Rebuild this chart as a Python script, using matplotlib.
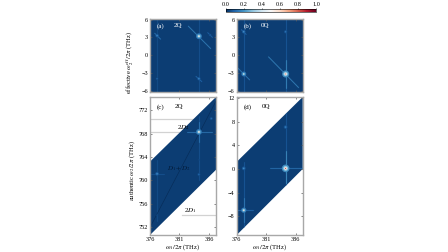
import numpy as np
import matplotlib
matplotlib.use("Agg")
import matplotlib.pyplot as plt

plt.rcParams["font.family"] = ["Liberation Serif", "DejaVu Serif"]
plt.rcParams["mathtext.fontset"] = "stix"
plt.rcParams["font.size"] = 4.5

cmap = plt.get_cmap("RdBu_r")
background = 0.025
gray = "#a8a8a8"

# spots: x, y, peak value, glow radius (THz)
spots_a = [(377.2, 3.3, 0.2, 0.3), (377.2, -4.0, 0.12, 0.22), (384.3, 3.2, 0.48, 0.5),
           (384.3, -4.0, 0.2, 0.28), (386.2, 3.4, 0.12, 0.22)]
spots_b = [(377.2, 3.95, 0.22, 0.3), (377.2, -3.2, 0.42, 0.42), (384.3, 3.95, 0.15, 0.28),
           (384.3, -3.2, 0.62, 0.6)]
spots_c = [(377.2, 761.1, 0.2, 0.32), (384.3, 768.3, 0.48, 0.5), (384.3, 761.0, 0.13, 0.25),
           (386.4, 770.6, 0.13, 0.25), (377.2, 754.0, 0.07, 0.15), (384.3, 763.5, 0.07, 0.12)]
spots_d = [(377.2, 0.1, 0.2, 0.32), (377.2, -7.0, 0.48, 0.45), (384.3, 7.1, 0.17, 0.32),
           (384.3, 0.1, 0.66, 0.65)]

# streaks: x0, y0, x1, y1, value
streaks_a = [(377.2, -6.2, 377.2, 6.2, 0.06), (384.3, -6.2, 384.3, 6.2, 0.07),
             (382.5, 4.9, 386.3, 1.1, 0.15), (376.8, 3.7, 377.8, 2.7, 0.13),
             (385.8, 3.8, 386.6, 3.0, 0.09), (383.8, -3.6, 384.8, -4.5, 0.1)]
streaks_b = [(377.2, -6.2, 377.2, 6.2, 0.08), (384.3, -6.2, 384.3, 6.2, 0.08),
             (381.4, -0.3, 386.5, -5.5, 0.16), (376.2, -2.2, 378.2, -4.2, 0.14),
             (376.8, 4.3, 377.6, 3.5, 0.11), (384.3, -0.8, 384.3, -5.6, 0.18)]
streaks_c = [(377.2, 753.0, 377.2, 763.5, 0.06), (384.3, 760.0, 384.3, 771.0, 0.07),
             (382.3, 768.3, 386.6, 768.3, 0.14), (384.3, 766.5, 384.3, 770.0, 0.14),
             (376.2, 761.1, 378.4, 761.1, 0.07)]
streaks_d = [(377.2, -11.0, 377.2, 1.1, 0.08), (384.3, -2.8, 384.3, 9.5, 0.08),
             (376.0, -7.0, 378.8, -7.0, 0.11), (377.2, -9.0, 377.2, -5.0, 0.15),
             (381.6, 0.1, 387.0, 0.1, 0.13), (384.3, -2.4, 384.3, 3.0, 0.2)]

# parallelogram corners of the measured region
region_c = [(376.0, 750.6), (376.0, 763.2), (387.2, 774.3), (387.2, 761.8)]
region_d = [(376.0, -11.2), (376.0, 1.2), (387.2, 12.2), (387.2, 0.0)]

# gray guide lines in panel c: x0, x1, y
guides_c = [(376.1, 387.2, 770.5), (376.0, 387.2, 768.3), (381.5, 387.2, 754.0)]

fig = plt.figure(figsize=(4.48, 2.52), dpi=100)


def make_axes(left, top, right, bottom):
    ax = fig.add_axes([left / 448, 1 - bottom / 252, (right - left) / 448, (bottom - top) / 252])
    ax.set_xlim(376, 387.2)
    ax.set_xticks([376, 381, 386])
    ax.tick_params(direction="in", length=1.5, width=0.5, pad=1.5, labelsize=4.5,
                   top=True, right=True, color="#555555")
    for s in ax.spines.values():
        s.set_color(gray)
        s.set_linewidth(1.0)
    return ax


def draw_marks(ax, spots, streaks, clip=None):
    for x0, y0, x1, y1, v in streaks:
        for lw, a in [(1.0, 0.3), (0.45, 1.0)]:
            ln, = ax.plot([x0, x1], [y0, y1], color=cmap(v), lw=lw, alpha=a,
                          solid_capstyle="round", zorder=2)
            if clip is not None:
                ln.set_clip_path(clip)
    for x, y, v, r in spots:
        for frac, val in [(1.0, 0.25), (0.65, 0.45), (0.35, 0.8), (0.15, 1.3)]:
            p = plt.Circle((x, y), r * frac, color=cmap(min(background + (v - background) * val, 1.0)),
                           lw=0, zorder=3)
            ax.add_patch(p)
            if clip is not None:
                p.set_clip_path(clip)


ax_a = make_axes(150, 18.5, 216, 91.7)
ax_b = make_axes(236.7, 18.5, 302.7, 91.7)
for ax, spots, streaks in [(ax_a, spots_a, streaks_a), (ax_b, spots_b, streaks_b)]:
    ax.set_facecolor(cmap(background))
    ax.set_ylim(-6.2, 6.2)
    ax.set_yticks([-6, -3, 0, 3, 6])
    ax.set_xticklabels([])
    draw_marks(ax, spots, streaks)

ax_c = make_axes(150, 97, 216, 235)
ax_c.set_ylim(750.6, 774.3)
ax_c.set_yticks([752, 756, 760, 764, 768, 772])
ax_d = make_axes(236.7, 97, 302.7, 235)
ax_d.set_ylim(-11.2, 12.2)
ax_d.set_yticks([-8, -4, 0, 4, 8, 12])

for ax, region, spots, streaks in [(ax_c, region_c, spots_c, streaks_c), (ax_d, region_d, spots_d, streaks_d)]:
    poly = plt.Polygon(region, closed=True, facecolor=cmap(background), edgecolor="none", zorder=1)
    ax.add_patch(poly)
    draw_marks(ax, spots, streaks, clip=poly)

for x0, x1, y in guides_c:
    ax_c.plot([x0, x1], [y, y], color="#d2d2d2", lw=0.9, zorder=0.5)
ax_c.plot([376, 387.2], [751.9, 773.6], color="#062a55", lw=0.4, zorder=2.5)

for ax, lab, q in [(ax_a, "(a)", "2Q"), (ax_b, "(b)", "0Q")]:
    ax.text(0.16, 0.9, lab, color="white", transform=ax.transAxes, ha="center", va="center", fontsize=5)
    ax.text(0.43, 0.9, q, color="white", transform=ax.transAxes, ha="center", va="center", fontsize=5)
for ax, lab, q in [(ax_c, "(c)", "2Q"), (ax_d, "(d)", "0Q")]:
    ax.text(0.16, 0.93, lab, transform=ax.transAxes, ha="center", va="center", fontsize=5)
    ax.text(0.44, 0.93, q, transform=ax.transAxes, ha="center", va="center", fontsize=5)

ax_c.text(381.6, 769.1, r"2$D_2$", ha="center", va="center", fontsize=5)
ax_c.text(381.0, 762.0, r"$D_1 + D_2$", ha="center", va="center", fontsize=5, color="#021a38")
ax_c.text(382.8, 754.8, r"2$D_1$", ha="center", va="center", fontsize=5)

fig.text(130 / 448, 1 - 62 / 252, r"effective $\omega_2^{\mathrm{eff}}/2\pi$ (THz)", fontsize=4.8,
         rotation=90, ha="center", va="center")
fig.text(132 / 448, 1 - 170 / 252, r"authentic $\omega_2/2\pi$ (THz)", fontsize=4.8,
         rotation=90, ha="center", va="center")
fig.text(183 / 448, 1 - 247 / 252, r"$\omega_1/2\pi$ (THz)", fontsize=4.8, ha="center", va="center")
fig.text(269.7 / 448, 1 - 247 / 252, r"$\omega_1/2\pi$ (THz)", fontsize=4.8, ha="center", va="center")

cax = fig.add_axes([225.7 / 448, 1 - 12 / 252, 90.3 / 448, 2.7 / 252])
sm = plt.cm.ScalarMappable(norm=plt.Normalize(0, 1), cmap=cmap)
cb = fig.colorbar(sm, cax=cax, orientation="horizontal")
cb.set_ticks([0, 0.2, 0.4, 0.6, 0.8, 1.0])
cb.ax.xaxis.set_ticks_position("top")
cb.ax.tick_params(length=1, width=0.4, pad=1, labelsize=4.5)
cb.outline.set_linewidth(0.4)

fig.savefig("out.png", dpi=100)
